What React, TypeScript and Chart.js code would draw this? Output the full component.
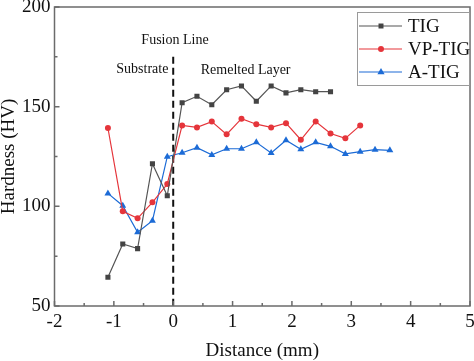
import { useEffect, useRef } from "react";
import { Chart, registerables } from "chart.js";

Chart.register(...registerables);

// ---- data ----
const distance = [-1.1, -0.85, -0.6, -0.35, -0.1, 0.15, 0.4, 0.65, 0.9, 1.15, 1.4, 1.65, 1.9, 2.15, 2.4, 2.65, 2.9, 3.15, 3.4, 3.65];
const tigHardness = [64.4, 81.1, 78.8, 121.4, 105.3, 152.0, 155.2, 151.0, 158.5, 160.4, 152.7, 160.4, 156.9, 158.5, 157.5, 157.5];
const vpTigHardness = [139.3, 97.5, 94.0, 102.0, 111.2, 140.6, 139.6, 142.5, 136.1, 144.0, 141.2, 139.6, 141.7, 133.4, 142.5, 136.5, 134.1, 140.6];
const aTigHardness = [106.5, 100.3, 87.0, 92.8, 124.9, 126.9, 129.4, 125.8, 128.9, 128.9, 132.1, 126.8, 133.1, 128.6, 132.1, 130.1, 126.3, 127.4, 128.4, 128.1];
const seriesLabels = ["TIG", "VP-TIG", "A-TIG"];
const xMajorTicks = [-2, -1, 0, 1, 2, 3, 4, 5];
const xMinorTicks = [-1.5, -0.5, 0.5, 1.5, 2.5, 3.5, 4.5];
const yMajorTicks = [50, 100, 150, 200];
const yMinorTicks = [75, 125, 175];
const annotations = [
  { text: "Fusion Line", x: 0.03, y: 183.5 },
  { text: "Substrate", x: -0.52, y: 168.9 },
  { text: "Remelted Layer", x: 1.22, y: 168.4 },
];
const fusionLine = { x: 0, yFrom: 175, yTo: 50 };

const SERIF = '"Liberation Serif", "Times New Roman", serif';

function toPoints(values: number[]) {
  return values.map((v, i) => ({ x: distance[i], y: v }));
}

const decorPlugin = {
  id: "decor",
  beforeDatasetsDraw(chart: any) {
    const { ctx, scales } = chart;
    const x = scales.x, y = scales.y;
    ctx.save();
    ctx.strokeStyle = "#111";
    ctx.lineWidth = 2;
    ctx.setLineDash([7, 4]);
    const px = x.getPixelForValue(fusionLine.x);
    ctx.beginPath();
    ctx.moveTo(px, y.getPixelForValue(fusionLine.yFrom));
    ctx.lineTo(px, y.getPixelForValue(fusionLine.yTo));
    ctx.stroke();
    ctx.restore();

    ctx.save();
    ctx.fillStyle = "#111";
    ctx.font = `14px ${SERIF}`;
    ctx.textAlign = "center";
    ctx.textBaseline = "middle";
    for (const a of annotations) {
      ctx.fillText(a.text, x.getPixelForValue(a.x), y.getPixelForValue(a.y));
    }
    ctx.restore();
  },
  afterDraw(chart: any) {
    const { ctx, chartArea, scales } = chart;
    const x = scales.x, y = scales.y;
    const { left, right, top, bottom } = chartArea;
    ctx.save();
    ctx.strokeStyle = "#6b6b6b";
    ctx.lineWidth = 1.5;
    ctx.setLineDash([]);
    ctx.strokeRect(left, top, right - left, bottom - top);
    ctx.beginPath();
    for (const t of xMajorTicks) {
      const p = x.getPixelForValue(t);
      ctx.moveTo(p, bottom);
      ctx.lineTo(p, bottom - 5);
    }
    for (const t of xMinorTicks) {
      const p = x.getPixelForValue(t);
      ctx.moveTo(p, bottom);
      ctx.lineTo(p, bottom - 3);
    }
    for (const t of yMajorTicks) {
      const p = y.getPixelForValue(t);
      ctx.moveTo(left, p);
      ctx.lineTo(left + 5, p);
    }
    for (const t of yMinorTicks) {
      const p = y.getPixelForValue(t);
      ctx.moveTo(left, p);
      ctx.lineTo(left + 3, p);
    }
    ctx.stroke();
    ctx.restore();

    // legend
    const bx = 357, by = 12, bw = 112, bh = 73;
    ctx.save();
    ctx.fillStyle = "#fff";
    ctx.fillRect(bx, by, bw, bh);
    ctx.strokeStyle = "#9a9a9a";
    ctx.lineWidth = 1;
    ctx.strokeRect(bx + 0.5, by + 0.5, bw, bh);
    chart.data.datasets.forEach((ds: any, i: number) => {
      const cy = 26 + i * 23;
      ctx.strokeStyle = ds.borderColor;
      ctx.lineWidth = 1.2;
      ctx.beginPath();
      ctx.moveTo(359, cy);
      ctx.lineTo(402, cy);
      ctx.stroke();
      (Chart as any).helpers?.drawPoint;
      ctx.fillStyle = ds.pointBackgroundColor;
      ctx.beginPath();
      if (ds.pointStyle === "rect") {
        ctx.rect(381 - 2.5, cy - 2.5, 5, 5);
      } else if (ds.pointStyle === "circle") {
        ctx.arc(381, cy, 3, 0, Math.PI * 2);
      } else {
        ctx.moveTo(381, cy - 4);
        ctx.lineTo(381 + 3.6, cy + 2.2);
        ctx.lineTo(381 - 3.6, cy + 2.2);
        ctx.closePath();
      }
      ctx.fill();
      ctx.fillStyle = "#111";
      ctx.font = `19px ${SERIF}`;
      ctx.textAlign = "left";
      ctx.textBaseline = "middle";
      ctx.fillText(ds.label, 408, cy + 1);
    });
    ctx.restore();
  },
};

export default function App() {
  const ref = useRef<HTMLCanvasElement | null>(null);
  useEffect(() => {
    document.body.style.margin = "0";
    if (!ref.current) return;
    const grey = "#555555";
    const red = "#e5353b";
    const blue = "#1c6bd6";
    const chart = new Chart(ref.current, {
      type: "line",
      data: {
        datasets: [
          {
            label: seriesLabels[0],
            data: toPoints(tigHardness),
            borderColor: grey,
            backgroundColor: "#444",
            pointBackgroundColor: "#444",
            pointBorderColor: "#444",
            pointStyle: "rect",
            pointRadius: 3.6,
            borderWidth: 1.2,
            pointBorderWidth: 0,
          },
          {
            label: seriesLabels[1],
            data: toPoints(vpTigHardness),
            borderColor: red,
            backgroundColor: red,
            pointBackgroundColor: red,
            pointBorderColor: red,
            pointStyle: "circle",
            pointRadius: 3,
            borderWidth: 1.2,
            pointBorderWidth: 0,
          },
          {
            label: seriesLabels[2],
            data: toPoints(aTigHardness),
            borderColor: blue,
            backgroundColor: blue,
            pointBackgroundColor: blue,
            pointBorderColor: blue,
            pointStyle: "triangle",
            pointRadius: 4,
            borderWidth: 1.2,
            pointBorderWidth: 0,
          },
        ],
      },
      options: {
        responsive: false,
        animation: false,
        layout: { padding: { top: 7, right: 4, left: 0, bottom: 0 } },
        plugins: { legend: { display: false }, tooltip: { enabled: false } },
        scales: {
          x: {
            type: "linear",
            min: -2,
            max: 5,
            grid: { display: false, drawTicks: false },
            border: { display: false },
            ticks: {
              stepSize: 1,
              padding: 5,
              color: "#111",
              font: { family: SERIF, size: 19 },
              maxRotation: 0,
            },
            title: {
              display: true,
              text: "Distance (mm)",
              color: "#111",
              font: { family: SERIF, size: 19, lineHeight: 1 },
              padding: 0,
            },
            afterFit(scale: any) {
              scale.height = 55;
              scale.paddingLeft = 0;
              scale.paddingRight = 0;
            },
          },
          y: {
            type: "linear",
            min: 50,
            max: 200,
            grid: { display: false, drawTicks: false },
            border: { display: false },
            ticks: {
              stepSize: 50,
              padding: 4,
              color: "#111",
              font: { family: SERIF, size: 19 },
            },
            title: {
              display: true,
              text: "Hardness (HV)",
              color: "#111",
              font: { family: SERIF, size: 19, lineHeight: 1 },
              padding: 0,
            },
            afterFit(scale: any) {
              scale.width = 54.5;
              scale.paddingTop = 0;
              scale.paddingBottom = 0;
            },
          },
        },
      },
      plugins: [decorPlugin],
    } as any);
    return () => chart.destroy();
  }, []);
  return <canvas ref={ref} width={474} height={361} style={{ display: "block" }} />;
}
